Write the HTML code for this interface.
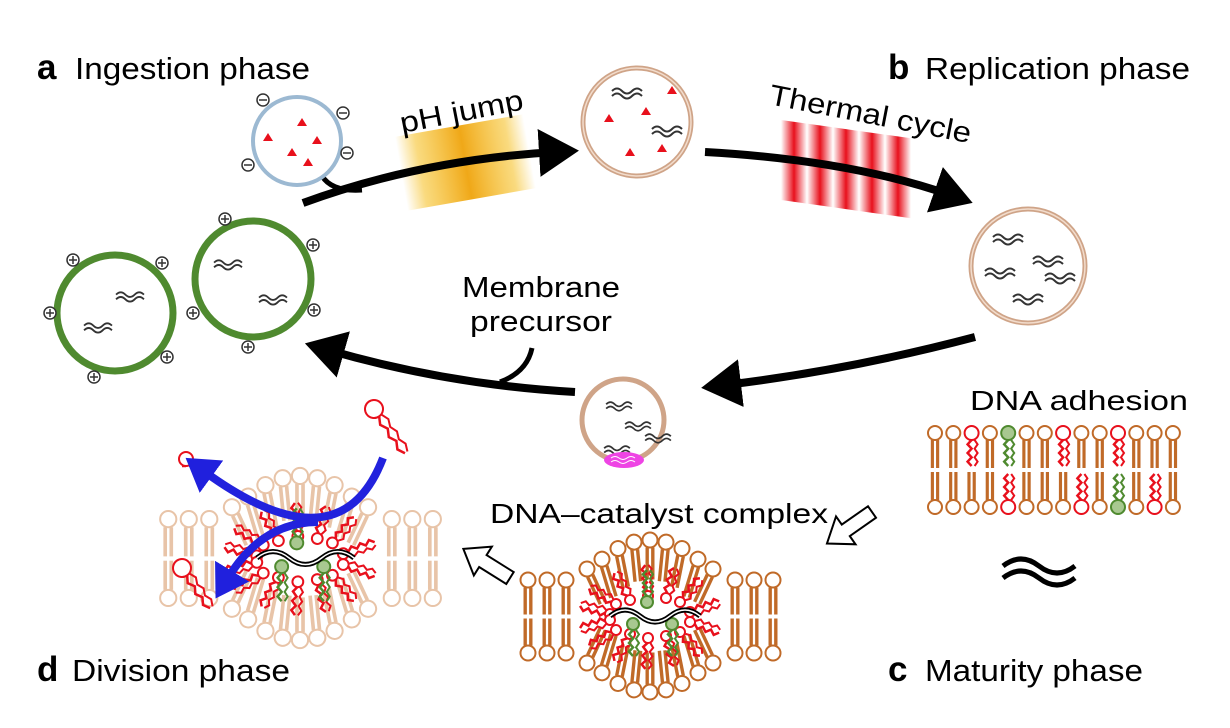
<!DOCTYPE html>
<html><head><meta charset="utf-8"><style>
html,body{margin:0;padding:0;background:#fff;width:1230px;height:728px;overflow:hidden}
svg{display:block}
text{font-family:"Liberation Sans",Arial,sans-serif;fill:#000}
</style></head><body>
<svg id="s" width="1230" height="728" viewBox="0 0 1230 728" xmlns="http://www.w3.org/2000/svg">
<defs>
<linearGradient id="ph" x1="0" y1="0" x2="1" y2="0">
<stop offset="0" stop-color="#f6c22a" stop-opacity="0"/>
<stop offset="0.15" stop-color="#f6c22a" stop-opacity="0.6"/>
<stop offset="0.5" stop-color="#f0a818"/>
<stop offset="0.85" stop-color="#f6c22a" stop-opacity="0.6"/>
<stop offset="1" stop-color="#f6c22a" stop-opacity="0"/>
</linearGradient>
<linearGradient id="th" x1="0" y1="0" x2="1" y2="0">
<stop offset="0" stop-color="#fff"/><stop offset="0.5" stop-color="#e8101c"/><stop offset="1" stop-color="#fff"/>
</linearGradient>
<symbol id="wv" viewBox="0 0 30 14" overflow="visible">
<path d="M0 5 q5 -5 10 0 t10 0 t10 0 M0 10 q5 -5 10 0 t10 0 t10 0" fill="none" stroke="#333" stroke-width="2"/>
</symbol>
<marker id="ah" markerWidth="6" markerHeight="6" refX="2" refY="3" orient="auto" markerUnits="strokeWidth">
<path d="M0 0 L5 3 L0 6 Z" fill="#000"/></marker>
<marker id="bh" markerWidth="5" markerHeight="5" refX="1" refY="2.5" orient="auto" markerUnits="strokeWidth">
<path d="M0 0 L4 2.5 L0 5 Z" fill="#2020dd"/></marker>
</defs>

<text x="37" y="79" font-size="35" font-weight="bold">a</text>
<text x="75" y="79" font-size="31" textLength="235" lengthAdjust="spacingAndGlyphs">Ingestion phase</text>
<text x="888" y="79" font-size="35" font-weight="bold">b</text>
<text x="925" y="79" font-size="31" textLength="265" lengthAdjust="spacingAndGlyphs">Replication phase</text>
<text x="888" y="681" font-size="35" font-weight="bold">c</text>
<text x="925" y="681" font-size="31" textLength="218" lengthAdjust="spacingAndGlyphs">Maturity phase</text>
<text x="37" y="681" font-size="35" font-weight="bold">d</text>
<text x="72" y="681" font-size="31" textLength="218" lengthAdjust="spacingAndGlyphs">Division phase</text>

<g transform="rotate(-10 465 160)"><rect x="400" y="125" width="130" height="75" fill="url(#ph)"/></g>
<text x="402" y="133" font-size="29" textLength="125" lengthAdjust="spacingAndGlyphs" transform="rotate(-11 402 133)">pH jump</text>
<g id="thg" transform="translate(781 120) skewY(8)"></g>
<text x="768" y="104" font-size="29" textLength="205" lengthAdjust="spacingAndGlyphs" transform="rotate(11 768 104)">Thermal cycle</text>

<path d="M303 203 Q420 160 555 152" fill="none" stroke="#000" stroke-width="8" marker-end="url(#ah)"/>
<path d="M322 176 Q332 192 362 190" fill="none" stroke="#000" stroke-width="5"/>
<path d="M705 152 Q850 160 950 195" fill="none" stroke="#000" stroke-width="8" marker-end="url(#ah)"/>
<path d="M975 337 Q850 370 725 385" fill="none" stroke="#000" stroke-width="8" marker-end="url(#ah)"/>
<path d="M575 392 Q450 385 328 350" fill="none" stroke="#000" stroke-width="8" marker-end="url(#ah)"/>
<path d="M532 348 Q527 372 500 382" fill="none" stroke="#000" stroke-width="5"/>
<text x="462" y="297" font-size="29" textLength="158" lengthAdjust="spacingAndGlyphs">Membrane</text>
<text x="470" y="331" font-size="29" textLength="142" lengthAdjust="spacingAndGlyphs">precursor</text>

<circle cx="297" cy="141" r="44" fill="none" stroke="#9cb9d2" stroke-width="4"/>
<g id="neg"></g>
<g fill="#e8101c">
<path d="M302 118 l5 8 h-10z"/><path d="M268 133 l5 8 h-10z"/><path d="M317 136 l5 8 h-10z"/><path d="M292 148 l5 8 h-10z"/><path d="M308 158 l5 8 h-10z"/>
</g>
<circle cx="637" cy="122" r="54" fill="none" stroke="#cfa488" stroke-width="5"/>
<circle cx="637" cy="122" r="54" fill="none" stroke="#f2dccc" stroke-width="1.5"/>
<use href="#wv" x="612" y="86" width="30" height="14"/>
<use href="#wv" x="652" y="124" width="30" height="14"/>
<g fill="#e8101c"><path d="M672 86 l5 8 h-10z"/><path d="M646 107 l5 8 h-10z"/><path d="M609 114 l5 8 h-10z"/><path d="M630 148 l5 8 h-10z"/><path d="M662 144 l5 8 h-10z"/></g>
<circle cx="1028" cy="266" r="57" fill="none" stroke="#cfa488" stroke-width="5"/>
<circle cx="1028" cy="266" r="57" fill="none" stroke="#f2dccc" stroke-width="1.5"/>
<use href="#wv" x="993" y="232" width="30" height="14"/>
<use href="#wv" x="1033" y="254" width="30" height="14"/>
<use href="#wv" x="985" y="266" width="30" height="14"/>
<use href="#wv" x="1045" y="271" width="30" height="14"/>
<use href="#wv" x="1013" y="292" width="30" height="14"/>
<circle cx="623" cy="420" r="41" fill="none" stroke="#cfa488" stroke-width="5"/>
<use href="#wv" x="606" y="400" width="26" height="12"/>
<use href="#wv" x="625" y="420" width="26" height="12"/>
<use href="#wv" x="645" y="432" width="26" height="12"/>
<use href="#wv" x="604" y="444" width="26" height="12"/>
<ellipse cx="624" cy="460" rx="20" ry="8" fill="#ee44e4"/>
<path d="M611 458 q4 -3 8 0 t8 0 t8 0 M611 462 q4 -3 8 0 t8 0 t8 0" fill="none" stroke="#fff" stroke-width="1"/>

<ellipse cx="115" cy="313" rx="58" ry="58" fill="none" stroke="#4f8a2f" stroke-width="7"/>
<ellipse cx="253" cy="279" rx="58" ry="58" fill="none" stroke="#4f8a2f" stroke-width="7"/>
<use href="#wv" x="116" y="290" width="28" height="13"/>
<use href="#wv" x="84" y="321" width="28" height="13"/>
<use href="#wv" x="214" y="258" width="28" height="13"/>
<use href="#wv" x="259" y="293" width="28" height="13"/>
<g id="pos"></g>

<text x="490" y="523" font-size="28" textLength="338" lengthAdjust="spacingAndGlyphs">DNA–catalyst complex</text>

<path d="M0 -7 L-32 -7 L-32 -17 L-55 0 L-32 17 L-32 7 L0 7 Z" fill="#fff" stroke="#000" stroke-width="2" transform="translate(510 578) rotate(32)"/>
<path d="M0 -7 L-32 -7 L-32 -17 L-55 0 L-32 17 L-32 7 L0 7 Z" fill="#fff" stroke="#000" stroke-width="2" transform="translate(872 512) rotate(-35)"/>

<text x="970" y="410" font-size="28" textLength="218" lengthAdjust="spacingAndGlyphs">DNA adhesion</text>

<g id="lip"></g>

<path d="M1003 566 q18 -14 36 0 t36 0 M1003 578 q18 -14 36 0 t36 0" fill="none" stroke="#000" stroke-width="5"/>

<path id="b1" d="M383 458 Q340 570 205 472" fill="none" stroke="#2222dd" stroke-width="8" marker-end="url(#bh)"/>
<path id="b2" d="M318 522 Q262 522 228 578" fill="none" stroke="#2222dd" stroke-width="8" marker-end="url(#bh)"/>
</svg>
<script>
var NS="http://www.w3.org/2000/svg",S=document.getElementById('s');
function el(p,t,a){var e=document.createElementNS(NS,t);for(var k in a)e.setAttribute(k,a[k]);p.appendChild(e);return e;}
var thg=document.getElementById('thg');
for(var i=0;i<5;i++)el(thg,'rect',{x:i*26,y:0,width:26,height:80,fill:'url(#th)'});
function charge(g,x,y,plus){el(g,'circle',{cx:x,cy:y,r:6,fill:'#fff',stroke:'#333','stroke-width':1.5});
el(g,'path',{d:plus?'M'+(x-4)+' '+y+'h8M'+x+' '+(y-4)+'v8':'M'+(x-4)+' '+y+'h8',stroke:'#333','stroke-width':1.5});}
var ng=document.getElementById('neg');
[[263,100],[343,113],[347,153],[248,165]].forEach(function(p){charge(ng,p[0],p[1],false)});
var pg=document.getElementById('pos');
[[73,260],[162,263],[50,313],[167,357],[94,377],[225,219],[313,245],[193,313],[314,310],[248,347]].forEach(function(p){charge(pg,p[0],p[1],true)});
var L=document.getElementById('lip');
function lipid(x,y,dir,col,r,len,ang){var g=el(L,'g',{transform:'translate('+x+' '+y+') rotate('+(ang||0)+')'});
el(g,'rect',{x:-r*0.6,y:dir>0?r:-r-len,width:r*0.45,height:len,fill:col});
el(g,'rect',{x:r*0.15,y:dir>0?r:-r-len,width:r*0.45,height:len,fill:col});
el(g,'circle',{cx:0,cy:0,r:r,fill:'#fff',stroke:col,'stroke-width':2});}
function wig(x,y,dir,col,ang,len,r){var g=el(L,'g',{transform:'translate('+x+' '+y+') rotate('+(ang||0)+')'});
var d='M0 '+(dir*r);for(var k=0;k<6;k++){d+=' l'+(k%2?4:-4)+' '+dir*len/6;}
el(g,'path',{d:d,fill:'none',stroke:col,'stroke-width':2.5});
d='M3 '+(dir*r);for(var k=0;k<6;k++){d+=' l'+(k%2?-3:3)+' '+dir*len/6;}
el(g,'path',{d:d,fill:'none',stroke:col,'stroke-width':2});
el(g,'circle',{cx:0,cy:0,r:r,fill:col=='#4f8a2f'?'#a8c890':'#fff',stroke:col,'stroke-width':2});}
var BR='#c06a28',PK='#e8c4a8',RD='#e8101c',GR='#4f8a2f';
for(var i=0;i<14;i++){var x=935+i*18.3;
var tR=[2,7,10].indexOf(i)>=0,tG=i==4,bR=[4,8,12].indexOf(i)>=0,bG=i==10;
if(tR)wig(x,433,1,RD,0,26,7);else if(tG)wig(x,433,1,GR,0,26,7);else lipid(x,433,1,BR,7,28);
if(bR)wig(x,507,-1,RD,0,26,7);else if(bG)wig(x,507,-1,GR,0,26,7);else lipid(x,507,-1,BR,7,28);}
function complex(cx,cy,col,s){
 var r=7.5*s;
 for(var i=0;i<3;i++){
  lipid(cx-122*s+i*19*s,cy-36*s,1,col,r,27*s);lipid(cx-122*s+i*19*s,cy+37*s,-1,col,r,27*s);
  lipid(cx+85*s+i*19*s,cy-36*s,1,col,r,27*s);lipid(cx+85*s+i*19*s,cy+37*s,-1,col,r,27*s);}
 // diagonal joining lipids
 lipid(cx-63*s,cy-47*s,1,col,r,30*s,-25);lipid(cx+63*s,cy-47*s,1,col,r,30*s,25);
 lipid(cx-63*s,cy+47*s,-1,col,r,30*s,25);lipid(cx+63*s,cy+47*s,-1,col,r,30*s,-25);
 // top & bottom arcs
 var xs=[-48,-32,-16,0,16,32,48];
 for(var j=0;j<7;j++){var dx=xs[j]*s,dy=Math.abs(xs[j])*Math.abs(xs[j])/120*s;
  lipid(cx+dx,cy-76*s+dy,1,col,r,32*s,xs[j]*0.35);
  lipid(cx+dx,cy+76*s-dy,-1,col,r,32*s,-xs[j]*0.35);}
 // red lipids: heads near DNA, tails outward
 var up=[[-34,-12,-60],[-20,-16,-30],[-2,-20,-5],[16,-18,15],[30,-14,40],[40,-4,70],[-40,-2,-75]];
 up.forEach(function(p){wig(cx+p[0]*s,cy+p[1]*s,-1,RD,p[2],26*s,5*s);});
 var dn=[[-34,14,60],[-20,18,30],[-2,22,5],[16,20,-15],[30,16,-40],[40,6,-70],[-40,4,75]];
 dn.forEach(function(p){wig(cx+p[0]*s,cy+p[1]*s,1,RD,p[2],26*s,5*s);});
 wig(cx-3*s,cy-14*s,-1,GR,0,26*s,6*s);wig(cx-17*s,cy+8*s,1,GR,0,26*s,6*s);wig(cx+22*s,cy+8*s,1,GR,0,26*s,6*s);
 var dd='M'+(cx-40*s)+' '+(cy)+' q'+(15*s)+' '+(-12*s)+' '+(30*s)+' 0 t'+(30*s)+' 0 t'+(30*s)+' 0';
 el(L,'path',{d:dd,fill:'none',stroke:'#000','stroke-width':5});
 el(L,'path',{d:dd,fill:'none',stroke:'#fff','stroke-width':1.5});
}
complex(650,616,BR,1);
complex(300,558,PK,1.08);
wig(374,409,1,RD,-35,45,9);wig(186,459,1,RD,0,0,7);wig(182,568,1,RD,-35,40,9);
S.appendChild(document.getElementById('b1'));S.appendChild(document.getElementById('b2'));
</script>
</body></html>
